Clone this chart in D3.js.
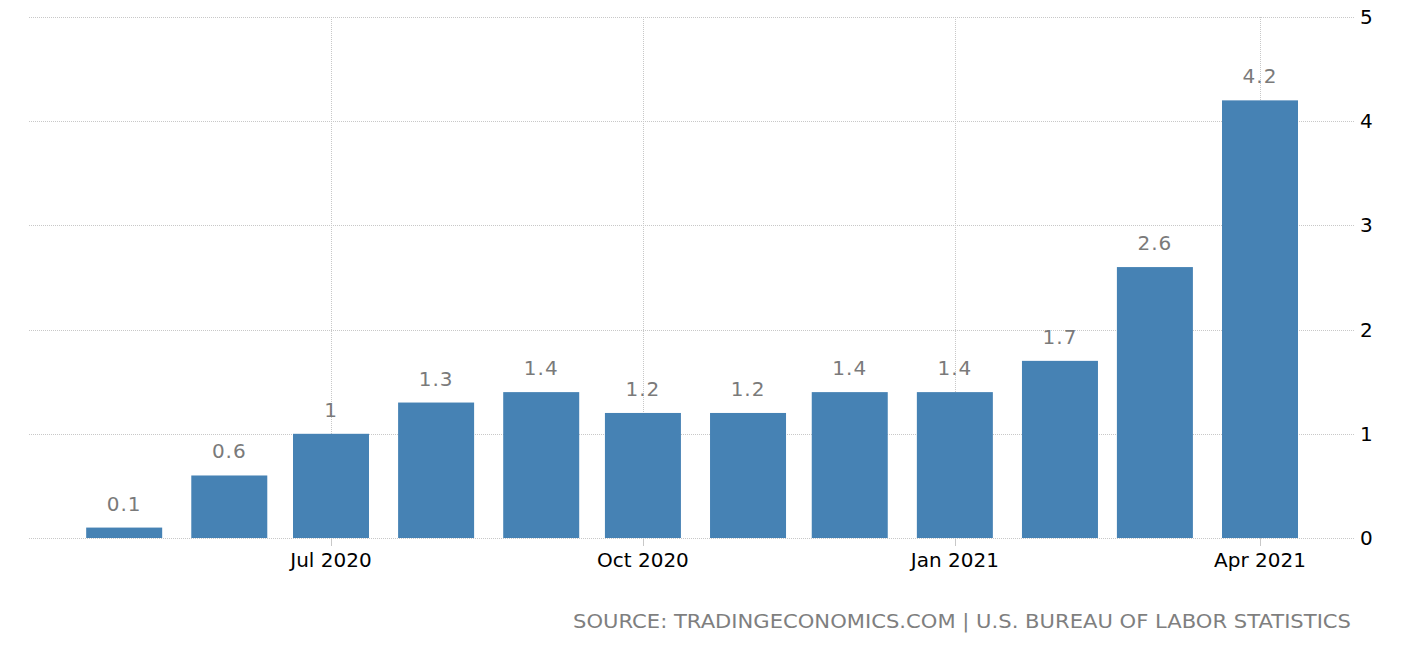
<!DOCTYPE html>
<html><head><meta charset="utf-8">
<script src="https://cdn.jsdelivr.net/npm/d3@7/dist/d3.min.js"></script>
<style>body{margin:0;background:#fff;}svg{display:block;}</style>
</head><body>
<svg id="c" width="1408" height="648"></svg>
<script>
const months = ["2020-05","2020-06","2020-07","2020-08","2020-09","2020-10","2020-11","2020-12","2021-01","2021-02","2021-03","2021-04"];
const values = [0.1,0.6,1,1.3,1.4,1.2,1.2,1.4,1.4,1.7,2.6,4.2];
const valueLabels = ["0.1","0.6","1","1.3","1.4","1.2","1.2","1.4","1.4","1.7","2.6","4.2"];
const xTicks = ["2020-07","2020-10","2021-01","2021-04"];
const xTickLabels = ["Jul 2020","Oct 2020","Jan 2021","Apr 2021"];
const yTicks = [0,1,2,3,4,5];
const source = "SOURCE: TRADINGECONOMICS.COM | U.S. BUREAU OF LABOR STATISTICS";

(function(){
const parse = d3.timeParse("%Y-%m");
const svg = d3.select("#c");
const pLeft = 29, pRight = 1354, pTop = 17, pBottom = 538;

const x = d3.scaleTime().domain([parse("2020-07"), parse("2021-04")]).range([331, 1260]);
const y = d3.scaleLinear().domain([0,5]).range([pBottom, pTop]);
const barW = 76;
const font = "'DejaVu Sans', sans-serif";

// horizontal grid
svg.append("g").selectAll("line").data(yTicks).join("line")
  .attr("x1", pLeft).attr("x2", pRight)
  .attr("y1", d=>Math.round(y(d))+0.5).attr("y2", d=>Math.round(y(d))+0.5)
  .attr("stroke", "#c8c8c8").attr("stroke-dasharray","1,1");

// vertical grid
svg.append("g").selectAll("line").data(xTicks).join("line")
  .attr("x1", d=>Math.round(x(parse(d)))+0.5).attr("x2", d=>Math.round(x(parse(d)))+0.5)
  .attr("y1", pTop).attr("y2", pBottom)
  .attr("stroke", "#c8c8c8").attr("stroke-dasharray","1,1");

// bars
svg.append("g").selectAll("rect").data(months).join("rect")
  .attr("x", (d)=>x(parse(d)) - barW/2)
  .attr("width", barW)
  .attr("y", (d,i)=>y(values[i]))
  .attr("height", (d,i)=>y(0)-y(values[i]))
  .attr("fill", "#4682b4");

// value labels
svg.append("g").selectAll("text").data(months).join("text")
  .attr("x", d=>x(parse(d)))
  .attr("y", (d,i)=>y(values[i]) - 17)
  .attr("text-anchor","middle")
  .attr("font-family", font).attr("font-size", 20).attr("letter-spacing", 1)
  .attr("fill", "#7a7a7a")
  .text((d,i)=>valueLabels[i]);

// x ticks
svg.append("g").selectAll("line").data(xTicks).join("line")
  .attr("x1", d=>Math.round(x(parse(d)))+0.5).attr("x2", d=>Math.round(x(parse(d)))+0.5)
  .attr("y1", pBottom).attr("y2", pBottom+8)
  .attr("stroke", "#c8c8c8");
svg.append("g").selectAll("text").data(xTicks).join("text")
  .attr("x", d=>x(parse(d)))
  .attr("y", pBottom + 29)
  .attr("text-anchor","middle")
  .attr("font-family", font).attr("font-size", 20)
  .attr("fill", "#000")
  .text((d,i)=>xTickLabels[i]);

// y ticks
svg.append("g").selectAll("text").data(yTicks).join("text")
  .attr("x", 1360)
  .attr("y", d=>y(d))
  .attr("dy", "0.35em")
  .attr("font-family", font).attr("font-size", 20)
  .attr("fill", "#000")
  .text(d=>d);

// source
svg.append("text")
  .attr("x", 573).attr("y", 628)
  .attr("textLength", 778).attr("lengthAdjust", "spacingAndGlyphs")
  .attr("font-family", font)
  .attr("font-size", 20)
  .attr("fill", "#7f7f7f")
  .text(source);
})();
</script>
</body></html>
